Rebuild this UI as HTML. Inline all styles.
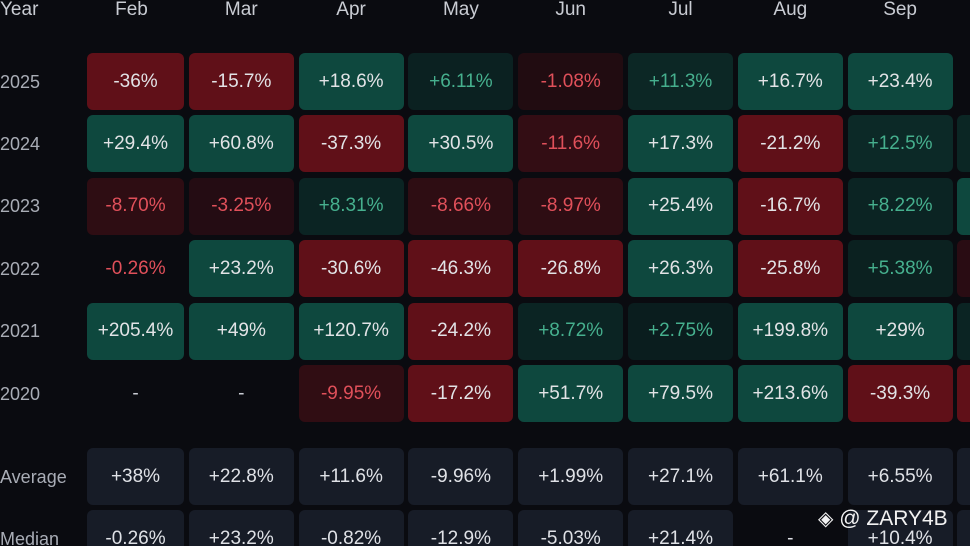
<!DOCTYPE html>
<html><head><meta charset="utf-8"><style>
html,body{margin:0;padding:0;background:#0a0b10;overflow:hidden}
#c{position:relative;width:970px;height:546px;overflow:hidden;background:#0a0b10;font-family:"Liberation Sans","DejaVu Sans",sans-serif}
.h{position:absolute;top:0;height:22px;line-height:20px;font-size:19px;color:#c9ccd3;text-align:center}
.y{position:absolute;left:0;font-size:18px;color:#a9adb6}
.cell{position:absolute;border-radius:6px;display:flex;align-items:center;justify-content:center;font-size:19px}
</style></head><body>
<div id="c">
<div class="h" style="left:0;width:44px;text-align:left">Year</div>
</div>
<script>
const months=["Feb","Mar","Apr","May","Jun","Jul","Aug","Sep","Oct"];
const years=["2025","2024","2023","2022","2021","2020"];
const v2025=[-36,-15.7,18.6,6.11,-1.08,11.3,16.7,23.4,null];
const v2024=[29.4,60.8,-37.3,30.5,-11.6,17.3,-21.2,12.5,10];
const v2023=[-8.70,-3.25,8.31,-8.66,-8.97,25.4,-16.7,8.22,28];
const v2022=[-0.26,23.2,-30.6,-46.3,-26.8,26.3,-25.8,5.38,-6];
const v2021=[205.4,49,120.7,-24.2,8.72,2.75,199.8,29,8];
const v2020=[null,null,-9.95,-17.2,51.7,79.5,213.6,-39.3,-20];
const labels2025=["-36%","-15.7%","+18.6%","+6.11%","-1.08%","+11.3%","+16.7%","+23.4%",""];
const labels2024=["+29.4%","+60.8%","-37.3%","+30.5%","-11.6%","+17.3%","-21.2%","+12.5%",""];
const labels2023=["-8.70%","-3.25%","+8.31%","-8.66%","-8.97%","+25.4%","-16.7%","+8.22%",""];
const labels2022=["-0.26%","+23.2%","-30.6%","-46.3%","-26.8%","+26.3%","-25.8%","+5.38%",""];
const labels2021=["+205.4%","+49%","+120.7%","-24.2%","+8.72%","+2.75%","+199.8%","+29%",""];
const labels2020=["-","-","-9.95%","-17.2%","+51.7%","+79.5%","+213.6%","-39.3%",""];
const average=["+38%","+22.8%","+11.6%","-9.96%","+1.99%","+27.1%","+61.1%","+6.55%",""];
const median=["-0.26%","+23.2%","-0.82%","-12.9%","-5.03%","+21.4%","-","+10.4%",""];
const rows=[v2025,v2024,v2023,v2022,v2021,v2020];
const rowLabels=[labels2025,labels2024,labels2023,labels2022,labels2021,labels2020];

const c=document.getElementById('c');
const xOf=i=>79+i*109.8, CW=105;
const yOf=r=>53+r*62.4, CH=57;
function mk(cls,name){const d=document.createElement('div');d.className=cls;


c.appendChild(d);return d;}
months.forEach((m,i)=>{const d=mk('h','month-header-'+m.toLowerCase());d.textContent=m;d.style.left=(xOf(i))+'px';d.style.width=CW+'px';});
function place(d,i,top){let l=xOf(i);let w=CW;if(l<87){w-=87-l;l=87;}d.style.left=l+'px';d.style.width=w+'px';d.style.top=top+'px';d.style.height=CH+'px';}
function bg(v){if(v==null||Math.abs(v)<0.5)return 'transparent';const t=Math.min(Math.abs(v)/15,1);
 const a=Math.abs(v)>=15?1:0.25+0.3*t;
 return v>0?`rgba(14,72,62,${a})`:`rgba(96,16,24,${a})`;}
function fg(v){if(v==null)return '#c9ccd3';if(Math.abs(v)>=15)return '#e2e3e6';return v>0?'#46b08e':'#e0505a';}
rows.forEach((row,r)=>{
 const yl=mk('y','year-label-'+years[r]);yl.textContent=years[r];yl.style.top=(yOf(r)+CH/2-10)+'px';
 row.forEach((v,i)=>{const d=mk('cell','cell-'+years[r]+'-'+months[i].toLowerCase());
  place(d,i,yOf(r));d.style.background=bg(v);d.style.color=fg(v);d.textContent=rowLabels[r][i];});
});
[["Average",average,448],["Median",median,510]].forEach(([nm,arr,top])=>{
 const yl=mk('y',nm.toLowerCase()+'-label');yl.textContent=nm;yl.style.top=(top+CH/2-10)+'px';
 arr.forEach((t,i)=>{const d=mk('cell',nm.toLowerCase()+'-cell-'+months[i].toLowerCase());
  place(d,i,top);d.style.background=(t==='-')?'transparent':'#171c27';d.style.color='#dfe1e6';d.textContent=t;});
});
const w=mk('y','watermark');w.style.left='818px';w.style.top='506px';w.style.fontSize='21px';w.style.color='#f2f2f2';
w.innerHTML='<span style="font-size:20px">◈</span> @ ZARY4B';
</script>
</body></html>
